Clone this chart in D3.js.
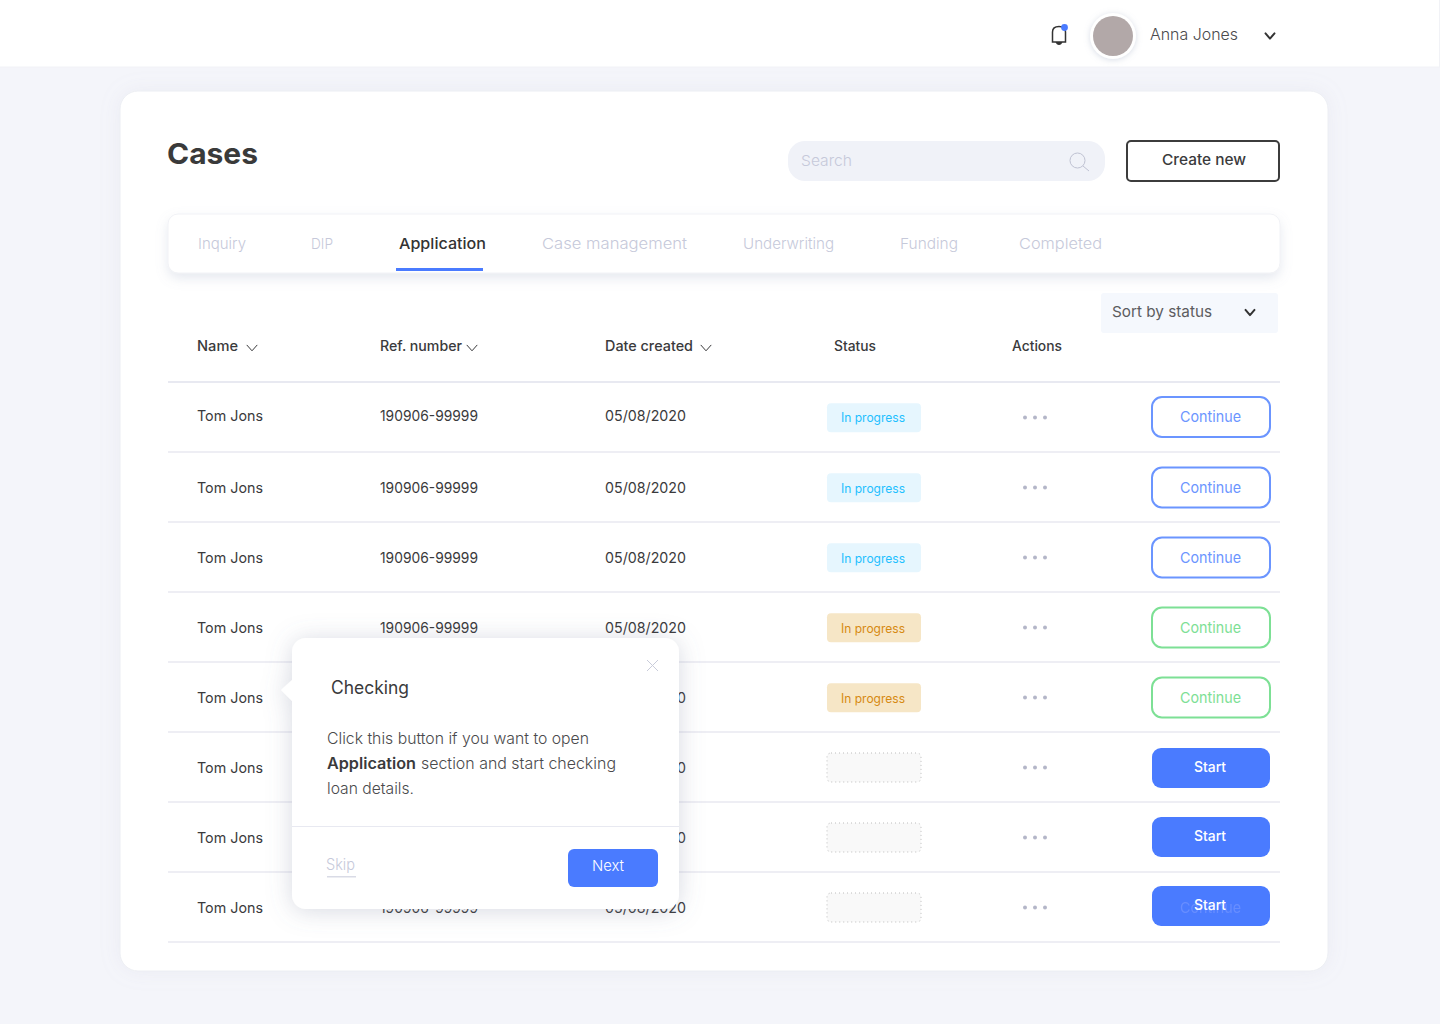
<!DOCTYPE html>
<html>
<head>
<meta charset="utf-8">
<script src="https://cdn.jsdelivr.net/npm/d3@7"></script>
<style>
  html, body { margin: 0; padding: 0; background: #f4f5fa; overflow: hidden; }
  text { font-family: Inter, "Open Sans", sans-serif; }
</style>
</head>
<body>
<div id="chart"></div>
<script>
// table content
var names = ["Tom Jons", "Tom Jons", "Tom Jons", "Tom Jons", "Tom Jons", "Tom Jons", "Tom Jons", "Tom Jons"];
var refs = ["190906-99999", "190906-99999", "190906-99999", "190906-99999", "190906-99999", "190906-99999", "190906-99999", "190906-99999"];
var dates = ["05/08/2020", "05/08/2020", "05/08/2020", "05/08/2020", "05/08/2020", "05/08/2020", "05/08/2020", "05/08/2020"];
var statuses = ["blue", "blue", "blue", "orange", "orange", "empty", "empty", "empty"];
var actions = ["Continue", "Continue", "Continue", "Continue", "Continue", "Start", "Start", "Start"];
var tabs = ["Inquiry", "DIP", "Application", "Case management", "Underwriting", "Funding", "Completed"];
var headers = ["Name", "Ref. number", "Date created", "Status", "Actions"];
var statusLabel = "In progress";

var svgWidth = 1440;
var svgHeight = 1024;

var ink = "#3a3a3c";
var blue = "#4a7bff";
var faint = "#c6c9da";
var ruleColor = "#e8e9f1";

var svg = d3.select("#chart")
  .append("svg")
  .attr("width", svgWidth)
  .attr("height", svgHeight)
  .style("display", "block");

var defs = svg.append("defs");
function shadow(id, dy, blur, color, op) {
  var f = defs.append("filter").attr("id", id)
    .attr("x", "-20%").attr("y", "-40%").attr("width", "140%").attr("height", "200%");
  f.append("feDropShadow")
    .attr("dx", 0).attr("dy", dy).attr("stdDeviation", blur)
    .attr("flood-color", color).attr("flood-opacity", op);
}
shadow("cardShadow", 0, 10, "#a4a9bd", 0.12);
shadow("tabShadow", 5, 6, "#8f9ab8", 0.22);
shadow("popShadow", 2, 12, "#6f7895", 0.28);
shadow("avatarShadow", 1, 3, "#8f9ab8", 0.35);

// text helper, w squeezes the string to the width measured on the picture
function txt(g, x, y, s, o) {
  var t = g.append("text")
    .attr("x", x).attr("y", y)
    .attr("font-size", o.size)
    .attr("font-weight", o.weight || 400)
    .attr("fill", o.fill || ink)
    .attr("text-anchor", o.anchor || "start")
    .text(s);
  if (o.w) t.attr("textLength", o.w).attr("lengthAdjust", "spacingAndGlyphs");
  if (o.opacity) t.attr("opacity", o.opacity);
  return t;
}

function chevron(g, cx, cy, w, h, sw, color) {
  g.append("path")
    .attr("d", d3.line()([[cx - w, cy - h], [cx, cy + h], [cx + w, cy - h]]))
    .attr("fill", "none").attr("stroke", color).attr("stroke-width", sw)
    .attr("stroke-linecap", "round").attr("stroke-linejoin", "round");
}

// page top bar
svg.append("rect").attr("x", -2).attr("y", -2).attr("width", svgWidth + 1.5).attr("height", 69)
  .attr("fill", "#fff").attr("stroke", "#f1f2f6");

var bar = svg.append("g");
bar.append("path")
  .attr("d", "M1052.5 42 V32 Q1052.5 26.5 1059 26.5 Q1065.5 26.5 1065.5 32 V42 Z")
  .attr("fill", "none").attr("stroke", "#333").attr("stroke-width", 1.5);
bar.append("path").attr("d", "M1055.5 42 H1062.5 Q1061.5 45 1059 45 Q1056.5 45 1055.5 42 Z").attr("fill", "#333");
bar.append("circle").attr("cx", 1064.5).attr("cy", 27.5).attr("r", 3.4).attr("fill", blue);
bar.append("circle").attr("cx", 1113).attr("cy", 36).attr("r", 23).attr("fill", "#fff").attr("filter", "url(#avatarShadow)");
bar.append("circle").attr("cx", 1113).attr("cy", 36).attr("r", 20).attr("fill", "#b2a8a8");
txt(bar, 1150, 40, "Anna Jones", { size: 15.5, weight: 300, fill: "#4a4a4c", w: 88 });
chevron(bar, 1270, 36, 4.5, 2.6, 2, "#333");

// main card
svg.append("rect")
  .attr("x", 120).attr("y", 91).attr("width", 1208).attr("height", 880).attr("rx", 18)
  .attr("fill", "#fff").attr("stroke", "#eceef3").attr("filter", "url(#cardShadow)");

txt(svg, 167, 164, "Cases", { size: 29, weight: 700, fill: "#3a3a3a", w: 91 });

// search and create button
svg.append("rect").attr("x", 788).attr("y", 141).attr("width", 317).attr("height", 40).attr("rx", 17).attr("fill", "#f0f2f8");
txt(svg, 801, 166, "Search", { size: 15, weight: 300, fill: "#c6c9da", w: 51 });
svg.append("circle").attr("cx", 1077.5).attr("cy", 160.5).attr("r", 7.5).attr("fill", "none").attr("stroke", "#bfc2d2").attr("stroke-width", 1);
svg.append("line").attr("x1", 1083).attr("y1", 166).attr("x2", 1089).attr("y2", 171).attr("stroke", "#bfc2d2").attr("stroke-width", 1);

svg.append("rect").attr("x", 1127).attr("y", 141).attr("width", 152).attr("height", 40).attr("rx", 4)
  .attr("fill", "#fff").attr("stroke", "#3c3c3c").attr("stroke-width", 2);
txt(svg, 1162, 165, "Create new", { size: 15, weight: 500, fill: "#3a3a3c", w: 84 });

// tabs
var tabX = d3.scaleOrdinal().domain(tabs).range([198, 311, 399, 542, 743, 900, 1019]);
var tabW = d3.scaleOrdinal().domain(tabs).range([48, 22, 87, 145, 91, 58, 83]);

svg.append("rect").attr("x", 168).attr("y", 214).attr("width", 1112).attr("height", 59).attr("rx", 10)
  .attr("fill", "#fff").attr("stroke", "#f1f2f6").attr("filter", "url(#tabShadow)");
tabs.forEach(function(d) {
  var on = d === "Application";
  txt(svg, tabX(d), 249, d, { size: 15, weight: on ? 500 : 300, fill: on ? "#333" : faint, w: tabW(d) });
});
svg.append("rect").attr("x", 396).attr("y", 268).attr("width", 87).attr("height", 3).attr("fill", blue);

// sort box
svg.append("rect").attr("x", 1101).attr("y", 293).attr("width", 177).attr("height", 40).attr("rx", 3).attr("fill", "#f5f8fd");
txt(svg, 1112, 317, "Sort by status", { size: 15, weight: 400, fill: "#5c5c60", w: 100 });
chevron(svg, 1250, 312.5, 4.5, 2.6, 2, "#333");

// columns and rows
var colX = d3.scaleOrdinal().domain(headers).range([197, 380, 605, 834, 1012]);
var headW = d3.scaleOrdinal().domain(headers).range([41, 82, 88, 42, 50]);
var arrowX = d3.scaleOrdinal().domain(headers).range([252, 472, 706]);

headers.forEach(function(d) {
  txt(svg, colX(d), 351, d, { size: 14, weight: 500, fill: "#3a3a3c", w: headW(d) });
  if (d !== "Status" && d !== "Actions") chevron(svg, arrowX(d), 348, 5, 2.8, 1, "#3a3a3c");
});

var rowY = d3.scaleBand().domain(d3.range(names.length)).range([382, 942]);
var centerY = function(i) { return rowY(i) + rowY.bandwidth() / 2; };

svg.append("line").attr("x1", 168).attr("x2", 1280).attr("y1", 382).attr("y2", 382)
  .attr("stroke", ruleColor).attr("stroke-width", 2);

var rows = svg.selectAll("g.row")
  .data(names)
  .enter()
  .append("g")
  .attr("class", "row")
  .attr("transform", function(d, i) { return "translate(0," + centerY(i) + ")"; });

rows.append("line")
  .attr("x1", 168).attr("x2", 1280)
  .attr("y1", rowY.bandwidth() / 2).attr("y2", rowY.bandwidth() / 2)
  .attr("stroke", ruleColor).attr("stroke-width", 1.5);

rows.each(function(d, i) {
  var g = d3.select(this);
  var dy = i === 0 ? 4 : 6;
  var nudge = i === 0 ? -1 : 0; // first row's small text sits higher
  txt(g, 197, dy, names[i], { size: 14.5, weight: 400, fill: "#3a3a3c", w: 66 });
  txt(g, 380, dy - 0.5, refs[i], { size: 14.5, weight: 400, fill: "#3a3a3c", w: 98 });
  txt(g, 605, dy, dates[i], { size: 14.5, weight: 400, fill: "#3a3a3c", w: 81 });

  // status badge
  if (statuses[i] === "empty") {
    g.append("rect").attr("x", 827).attr("y", -14).attr("width", 94).attr("height", 29).attr("rx", 4)
      .attr("fill", "#f9f9f9").attr("stroke", "#bdbdbd").attr("stroke-width", 1).attr("stroke-dasharray", "1 3");
  } else {
    var isBlue = statuses[i] === "blue";
    g.append("rect").attr("x", 827).attr("y", -13.7).attr("width", 94).attr("height", 29).attr("rx", 4)
      .attr("fill", isBlue ? "#e6f6fe" : "#f6e6c6");
    txt(g, 841, 6 + nudge, statusLabel, { size: 12.5, weight: 400, fill: isBlue ? "#1fc0ff" : "#d68a12", w: 64 });
  }

  // action dots
  [1025, 1035, 1045].forEach(function(cx) {
    g.append("circle").attr("cx", cx).attr("cy", 0.5).attr("r", 2).attr("fill", "#b4b6c8");
  });

  // action button
  if (actions[i] === "Start") {
    var off = i === 5 ? 1 : i === 6 ? 0 : -1;
    g.append("rect").attr("x", 1152).attr("y", -20 + off).attr("width", 118).attr("height", 40).attr("rx", 9).attr("fill", blue);
    if (i === 7) txt(g, 1180, 6, "Continue", { size: 15, weight: 400, fill: "#7f9dff", w: 61, opacity: 0.55 });
    txt(g, 1194, 4 + off, actions[i], { size: 14.5, weight: 500, fill: "#fff", w: 32 });
  } else {
    var col = i < 3 ? "#6b95ff" : "#7de095";
    g.append("rect").attr("x", 1152).attr("y", i === 0 ? -20 : -19.5).attr("width", 118).attr("height", 40).attr("rx", 10)
      .attr("fill", "#fff").attr("stroke", col).attr("stroke-width", 2);
    txt(g, 1180, 6 + nudge, actions[i], { size: 15, weight: 400, fill: col, w: 61 });
  }
});

// popup on top of the table
var pop = svg.append("g");
pop.append("path")
  .attr("d", "M292 638 m14 0 H665 a14 14 0 0 1 14 14 V895 a14 14 0 0 1 -14 14 H306 a14 14 0 0 1 -14 -14 V701 L281 690 L292 680 V652 a14 14 0 0 1 14 -14 Z")
  .attr("fill", "#fff").attr("filter", "url(#popShadow)");
pop.append("path").attr("d", "M647 660 L658 671 M658 660 L647 671").attr("stroke", "#c9ccda").attr("stroke-width", 1).attr("fill", "none");
txt(pop, 331, 694, "Checking", { size: 18, weight: 400, fill: "#3a3a3c", w: 78 });
txt(pop, 327, 744, "Click this button if you want to open", { size: 15.5, weight: 300, fill: "#4a4a4c", w: 262 });
txt(pop, 327, 769, "Application", { size: 15.5, weight: 600, fill: "#3a3a3c", w: 89 });
txt(pop, 421, 769, "section and start checking", { size: 15.5, weight: 300, fill: "#4a4a4c", w: 195 });
txt(pop, 327, 794, "loan details.", { size: 15.5, weight: 300, fill: "#4a4a4c", w: 87 });
pop.append("line").attr("x1", 292).attr("x2", 679).attr("y1", 826.5).attr("y2", 826.5).attr("stroke", ruleColor).attr("stroke-width", 1);
txt(pop, 326, 870, "Skip", { size: 15.5, weight: 300, fill: faint, w: 29 });
pop.append("rect").attr("x", 327).attr("y", 876).attr("width", 29).attr("height", 1.5).attr("fill", "#d9dbe6");
pop.append("rect").attr("x", 568).attr("y", 849).attr("width", 90).attr("height", 38).attr("rx", 6).attr("fill", blue);
txt(pop, 592, 871, "Next", { size: 15, weight: 300, fill: "#fff", w: 32 });
</script>
</body>
</html>
